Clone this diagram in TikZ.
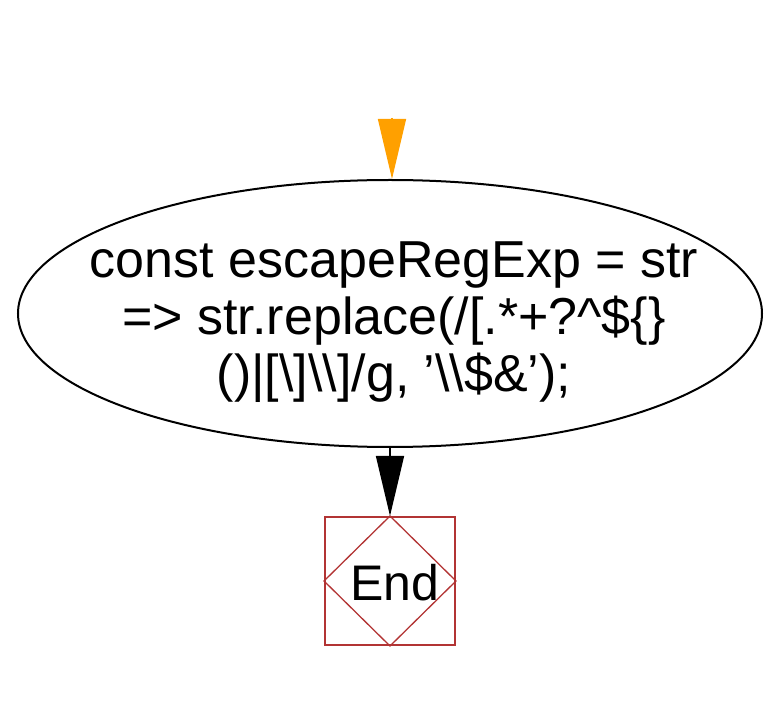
\documentclass[tikz,border=0pt]{standalone}
\usepackage{fontspec}
\setmainfont{Liberation Sans}
\usetikzlibrary{arrows.meta,shapes.geometric}
\definecolor{endred}{RGB}{178,52,52}
\definecolor{startorange}{RGB}{255,160,0}
\tikzset{
  procshape/.style={draw=black, line width=2pt, ellipse, minimum width=744pt, minimum height=267pt, inner sep=0pt},
  proctext/.style={align=center, font=\fontsize{52}{57}\selectfont, inner sep=0pt},
  endbox/.style={draw=endred, line width=2pt, minimum width=130pt, minimum height=128pt, inner sep=0pt},
  enddiamond/.style={draw=endred, line width=1.3pt},
  endtext/.style={font=\fontsize{50}{55}\selectfont, inner sep=0pt},
  orangearrow/.style={draw=startorange, line width=1.5pt, -{Triangle[length=60pt,width=28pt,fill=startorange]}},
  blackarrow/.style={draw=black, line width=1.5pt, -{Triangle[length=60pt,width=28pt,fill=black]}}
}
\begin{document}
\begin{tikzpicture}[x=1pt,y=-1pt]
\useasboundingbox (0,0) rectangle (772,708);
\node[procshape] (proc) at (390,313.5) {};
\node[proctext] (ptext) at (394,322) {const escapeRegExp = str\\=> str.replace(/[.*+?\textasciicircum\$\{\}\\()|[\textbackslash]\textbackslash\textbackslash]/g, '\textbackslash\textbackslash\$\&');};
\node[endbox] (endnode) at (390,581) {};
\draw[enddiamond] (endnode.north) -- (endnode.east) -- (endnode.south) -- (endnode.west) -- cycle;
\node[endtext] (endlabel) at (395,583) {End};
\coordinate (startpt) at (392,118);
\draw[orangearrow] (startpt) -- (proc.north -| startpt);
\draw[blackarrow] (proc.south) -- (endnode.north);
\end{tikzpicture}
\end{document}
